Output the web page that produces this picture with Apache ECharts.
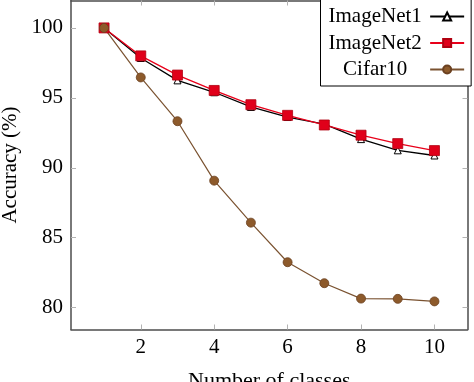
<!DOCTYPE html>
<html>
<head>
<meta charset="utf-8">
<script src="https://cdn.jsdelivr.net/npm/echarts@6/dist/echarts.min.js"></script>
<style>html,body{margin:0;padding:0;background:#fff;}#c{width:474px;height:382px;}</style>
</head>
<body>
<div id="c"></div>
<script>
const classes = [1, 2, 3, 4, 5, 6, 7, 8, 9, 10];
const imagenet1 = [100, 97.85, 96.25, 95.4, 94.35, 93.63, 93.12, 92.05, 91.25, 90.88];
const imagenet2 = [100, 98.0, 96.63, 95.53, 94.51, 93.75, 93.06, 92.33, 91.73, 91.23];
const cifar10 = [100, 96.46, 93.33, 89.08, 86.08, 83.25, 81.75, 80.65, 80.63, 80.45];
const xTicks = [2, 4, 6, 8, 10];
const yTicks = [80, 85, 90, 95, 100];

const FONT = 'Liberation Serif';
const pair = arr => classes.map((c, i) => [c, arr[i]]);

const chart = echarts.init(document.getElementById('c'), null, {renderer: 'canvas'});
const axisLine = {show: true, lineStyle: {color: '#4d4d4d', width: 1.5}};
const tick = (vals) => ({show: true, inside: true, length: 5, customValues: vals, lineStyle: {color: '#b3b3b3', width: 1}});
chart.setOption({
  animation: false,
  backgroundColor: '#fff',
  textStyle: {fontFamily: FONT},
  grid: {left: 71, right: 6.5, top: 0.5, bottom: 52.5, containLabel: false, outerBoundsMode: 'none'},
  xAxis: [{
    type: 'value', min: 0.1, max: 10.9,
    axisLine: axisLine, axisTick: tick(xTicks),
    axisLabel: {customValues: xTicks, color: '#000', fontFamily: FONT, fontSize: 21, margin: 7},
    splitLine: {show: false},
    name: 'Number of classes', nameLocation: 'middle', nameGap: 41,
    nameTextStyle: {color: '#000', fontFamily: FONT, fontSize: 22, verticalAlign: 'top'}
  }, {
    type: 'value', position: 'top', min: 0.1, max: 10.9,
    axisLine: axisLine, axisTick: tick(xTicks), axisLabel: {show: false}, splitLine: {show: false}
  }],
  yAxis: [{
    type: 'value', min: 78.44, max: 101.96,
    axisLine: axisLine, axisTick: tick(yTicks),
    axisLabel: {customValues: yTicks, color: '#000', fontFamily: FONT, fontSize: 21, margin: 8},
    splitLine: {show: false},
    name: 'Accuracy (%)', nameLocation: 'middle', nameGap: 50, nameRotate: 90,
    nameTextStyle: {color: '#000', fontFamily: FONT, fontSize: 21}
  }, {
    type: 'value', position: 'right', min: 78.44, max: 101.96,
    axisLine: axisLine, axisTick: tick(yTicks), axisLabel: {show: false}, splitLine: {show: false}
  }],
  legend: {
    orient: 'vertical', left: 320.5, top: -1,
    align: 'right',
    backgroundColor: '#fff', borderColor: '#000', borderWidth: 1,
    padding: [7, 6, 6, 8], itemGap: 5.5, itemWidth: 34, itemHeight: 10,
    formatter: name => '{t|' + name + '}',
    textStyle: {
      fontFamily: FONT, fontSize: 21, color: '#000',
      rich: {t: {fontFamily: FONT, fontSize: 21, color: '#000', width: 100, align: 'center'}}
    },
    data: ['ImageNet1', 'ImageNet2', 'Cifar10']
  },
  series: [{
    name: 'ImageNet1', type: 'line', data: pair(imagenet1),
    symbol: 'triangle', symbolSize: 7,
    lineStyle: {color: '#000', width: 1.3},
    itemStyle: {color: '#fff', borderColor: '#000', borderWidth: 1}
  }, {
    name: 'ImageNet2', type: 'line', data: pair(imagenet2),
    symbol: 'rect', symbolSize: 10,
    lineStyle: {color: '#e8001a', width: 1.3},
    itemStyle: {color: '#e0001a', borderColor: '#b00010', borderWidth: 0.8}
  }, {
    name: 'Cifar10', type: 'line', data: pair(cifar10),
    symbol: 'circle', symbolSize: 9,
    lineStyle: {color: '#7a5230', width: 1.2},
    itemStyle: {color: '#8d5a2b', borderColor: '#6b4020', borderWidth: 0.8}
  }]
});
</script>
</body>
</html>
